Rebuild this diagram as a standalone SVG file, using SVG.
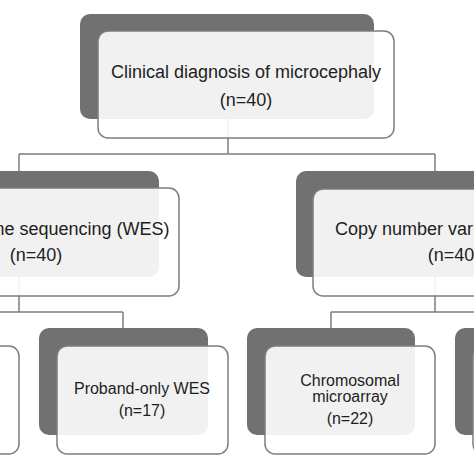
<svg xmlns="http://www.w3.org/2000/svg" width="474" height="474" viewBox="0 0 474 474">
<style>
.back{fill:#717171;}
.front{fill:#ffffff;fill-opacity:0.9;stroke:#7d7d7d;stroke-width:1.5;}
.t{font-family:"Liberation Sans",Arial,sans-serif;fill:#1e1e1e;text-anchor:middle;}
.l{font-size:18px;}
.s{font-size:16px;}
.c{fill:none;stroke:#7d7d7d;stroke-width:1.5;}
</style>
<rect width="474" height="474" fill="#ffffff"/>
<g id="connectors">
<path class="c" d="M228 119V154M19 154H435M19 154V171M435 154V171"/>
<path class="c" d="M19 277V312M-85 312H123M123 312V328M-85 312V328"/>
<path class="c" d="M435 277V312M331 312H540M331 312V328M540 312V328"/>
</g>
<g id="node-clinical">
<rect class="back" x="80" y="14" width="294" height="105" rx="10"/>
<rect class="front" x="98" y="31" width="296" height="107" rx="10"/>
<text class="t l" x="246" y="78">Clinical diagnosis of microcephaly</text>
<text class="t l" x="246" y="106">(n=40)</text>
</g>
<g id="node-wes">
<rect class="back" x="-135" y="171" width="294" height="106" rx="10"/>
<rect class="front" x="-117" y="188" width="296" height="108" rx="10"/>
<text class="t l" x="37" y="235">Whole exome sequencing (WES)</text>
<text class="t l" x="36" y="261">(n=40)</text>
</g>
<g id="node-cnv">
<rect class="back" x="296" y="171" width="294" height="106" rx="10"/>
<rect class="front" x="313" y="189" width="296" height="107" rx="10"/>
<text class="t l" x="453" y="235">Copy number variation (CNV)</text>
<text class="t l" x="454" y="261">(n=40)</text>
</g>
<g id="node-left-partial">
<rect class="back" x="-170" y="328" width="169" height="107" rx="10"/>
<rect class="front" x="-152" y="346" width="171" height="108" rx="10"/>
</g>
<g id="node-proband">
<rect class="back" x="39" y="328" width="169" height="107" rx="10"/>
<rect class="front" x="57" y="346" width="171" height="108" rx="10"/>
<text class="t s" x="142" y="394">Proband-only WES</text>
<text class="t s" x="142" y="416">(n=17)</text>
</g>
<g id="node-cma">
<rect class="back" x="247" y="328" width="168" height="107" rx="10"/>
<rect class="front" x="265" y="346" width="170" height="108" rx="10"/>
<text class="t s" x="350" y="386">Chromosomal</text>
<text class="t s" x="350" y="402">microarray</text>
<text class="t s" x="350" y="424">(n=22)</text>
</g>
<g id="node-right-partial">
<rect class="back" x="455" y="328" width="169" height="107" rx="10"/>
<rect class="front" x="473" y="346" width="171" height="108" rx="10"/>
</g>
</svg>
